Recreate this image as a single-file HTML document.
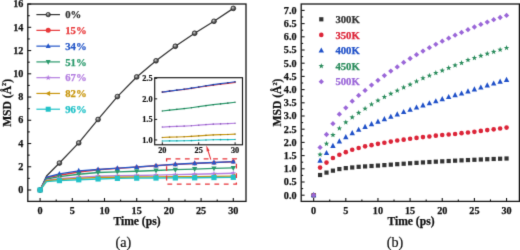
<!DOCTYPE html><html><head><meta charset="utf-8"><style>html,body{margin:0;padding:0;background:#fff;}svg{display:block;}</style></head><body><svg width="520" height="250" viewBox="0 0 520 250">
<defs><radialGradient id="sph" cx="0.4" cy="0.35" r="0.65"><stop offset="0" stop-color="#d8d8d8"/><stop offset="0.45" stop-color="#707070"/><stop offset="1" stop-color="#2a2a2a"/></radialGradient><clipPath id="cl"><rect x="0" y="0" width="520" height="250"/></clipPath></defs>
<style>text{font-family:'Liberation Serif','Times New Roman',serif;} .tk{font-size:10.2px;font-weight:bold;fill:#111;stroke:#111;stroke-width:0.25px;} .lab{font-size:11.6px;font-weight:bold;fill:#111;stroke:#111;stroke-width:0.25px;} .lg{font-size:10.7px;font-weight:bold;stroke-width:0.25px;} .it{font-size:8.3px;font-weight:bold;fill:#111;stroke:#111;stroke-width:0.2px;}</style>
<defs><filter id="bl" x="0" y="0" width="1" height="1" color-interpolation-filters="sRGB"><feConvolveMatrix order="3" kernelMatrix="0.01134 0.08382 0.01134 0.08382 0.61935 0.08382 0.01134 0.08382 0.01134" edgeMode="duplicate"/></filter></defs><g filter="url(#bl)">
<rect width="520" height="250" fill="#fff"/>
<line x1="27.8" y1="190.00" x2="31.20" y2="190.00" stroke="#151515" stroke-width="1.1"/>
<text x="23.4" y="193.20" text-anchor="end" class="tk">0</text>
<line x1="27.8" y1="178.38" x2="29.80" y2="178.38" stroke="#151515" stroke-width="1.1"/>
<line x1="27.8" y1="166.76" x2="31.20" y2="166.76" stroke="#151515" stroke-width="1.1"/>
<text x="23.4" y="169.96" text-anchor="end" class="tk">2</text>
<line x1="27.8" y1="155.14" x2="29.80" y2="155.14" stroke="#151515" stroke-width="1.1"/>
<line x1="27.8" y1="143.52" x2="31.20" y2="143.52" stroke="#151515" stroke-width="1.1"/>
<text x="23.4" y="146.72" text-anchor="end" class="tk">4</text>
<line x1="27.8" y1="131.90" x2="29.80" y2="131.90" stroke="#151515" stroke-width="1.1"/>
<line x1="27.8" y1="120.28" x2="31.20" y2="120.28" stroke="#151515" stroke-width="1.1"/>
<text x="23.4" y="123.48" text-anchor="end" class="tk">6</text>
<line x1="27.8" y1="108.66" x2="29.80" y2="108.66" stroke="#151515" stroke-width="1.1"/>
<line x1="27.8" y1="97.04" x2="31.20" y2="97.04" stroke="#151515" stroke-width="1.1"/>
<text x="23.4" y="100.24" text-anchor="end" class="tk">8</text>
<line x1="27.8" y1="85.42" x2="29.80" y2="85.42" stroke="#151515" stroke-width="1.1"/>
<line x1="27.8" y1="73.80" x2="31.20" y2="73.80" stroke="#151515" stroke-width="1.1"/>
<text x="23.4" y="77.00" text-anchor="end" class="tk">10</text>
<line x1="27.8" y1="62.18" x2="29.80" y2="62.18" stroke="#151515" stroke-width="1.1"/>
<line x1="27.8" y1="50.56" x2="31.20" y2="50.56" stroke="#151515" stroke-width="1.1"/>
<text x="23.4" y="53.76" text-anchor="end" class="tk">12</text>
<line x1="27.8" y1="38.94" x2="29.80" y2="38.94" stroke="#151515" stroke-width="1.1"/>
<line x1="27.8" y1="27.32" x2="31.20" y2="27.32" stroke="#151515" stroke-width="1.1"/>
<text x="23.4" y="30.52" text-anchor="end" class="tk">14</text>
<line x1="27.8" y1="15.70" x2="29.80" y2="15.70" stroke="#151515" stroke-width="1.1"/>
<line x1="27.8" y1="4.08" x2="31.20" y2="4.08" stroke="#151515" stroke-width="1.1"/>
<text x="23.4" y="7.28" text-anchor="end" class="tk">16</text>
<line x1="40.10" y1="201.4" x2="40.10" y2="198.00" stroke="#151515" stroke-width="1.1"/>
<text x="40.10" y="214.2" text-anchor="middle" class="tk">0</text>
<line x1="56.20" y1="201.4" x2="56.20" y2="199.40" stroke="#151515" stroke-width="1.1"/>
<line x1="72.30" y1="201.4" x2="72.30" y2="198.00" stroke="#151515" stroke-width="1.1"/>
<text x="72.30" y="214.2" text-anchor="middle" class="tk">5</text>
<line x1="88.40" y1="201.4" x2="88.40" y2="199.40" stroke="#151515" stroke-width="1.1"/>
<line x1="104.50" y1="201.4" x2="104.50" y2="198.00" stroke="#151515" stroke-width="1.1"/>
<text x="104.50" y="214.2" text-anchor="middle" class="tk">10</text>
<line x1="120.60" y1="201.4" x2="120.60" y2="199.40" stroke="#151515" stroke-width="1.1"/>
<line x1="136.70" y1="201.4" x2="136.70" y2="198.00" stroke="#151515" stroke-width="1.1"/>
<text x="136.70" y="214.2" text-anchor="middle" class="tk">15</text>
<line x1="152.80" y1="201.4" x2="152.80" y2="199.40" stroke="#151515" stroke-width="1.1"/>
<line x1="168.90" y1="201.4" x2="168.90" y2="198.00" stroke="#151515" stroke-width="1.1"/>
<text x="168.90" y="214.2" text-anchor="middle" class="tk">20</text>
<line x1="185.00" y1="201.4" x2="185.00" y2="199.40" stroke="#151515" stroke-width="1.1"/>
<line x1="201.10" y1="201.4" x2="201.10" y2="198.00" stroke="#151515" stroke-width="1.1"/>
<text x="201.10" y="214.2" text-anchor="middle" class="tk">25</text>
<line x1="217.20" y1="201.4" x2="217.20" y2="199.40" stroke="#151515" stroke-width="1.1"/>
<line x1="233.30" y1="201.4" x2="233.30" y2="198.00" stroke="#151515" stroke-width="1.1"/>
<text x="233.30" y="214.2" text-anchor="middle" class="tk">30</text>
<polyline points="40.10,190.00 46.54,176.06 59.42,163.04 78.74,142.94 98.06,119.47 117.38,96.58 136.70,76.94 156.02,60.79 175.34,46.26 194.66,33.25 213.98,21.28 233.30,8.38" fill="none" stroke="#333333" stroke-width="1.25" stroke-linejoin="round"/>
<polyline points="40.10,190.00 46.54,177.80 59.42,175.24 78.74,171.99 98.06,169.78 117.38,168.39 136.70,167.17 156.02,165.77 175.34,164.38 194.66,163.45 213.98,162.63 233.30,161.82" fill="none" stroke="#e8383a" stroke-width="1.4" stroke-linejoin="round"/>
<polyline points="40.10,190.00 46.54,177.22 59.42,173.85 78.74,170.83 98.06,169.43 117.38,168.15 136.70,166.99 156.02,165.60 175.34,164.20 194.66,163.27 213.98,162.46 233.30,161.65" fill="none" stroke="#2456c8" stroke-width="1.4" stroke-linejoin="round"/>
<polyline points="40.10,190.00 46.54,178.96 59.42,176.64 78.74,174.31 98.06,172.57 117.38,171.87 136.70,171.18 156.02,170.48 175.34,169.66 194.66,169.08 213.98,168.39 233.30,167.92" fill="none" stroke="#2a9a6c" stroke-width="1.4" stroke-linejoin="round"/>
<polyline points="40.10,190.00 46.54,180.12 59.42,178.61 78.74,177.22 98.06,176.29 117.38,175.82 136.70,175.47 156.02,175.13 175.34,174.66 194.66,174.20 213.98,173.73 233.30,173.27" fill="none" stroke="#b47ee0" stroke-width="1.4" stroke-linejoin="round"/>
<polyline points="40.10,190.00 46.54,180.70 59.42,179.54 78.74,178.38 98.06,177.57 117.38,177.22 136.70,176.99 156.02,176.87 175.34,176.75 194.66,176.64 213.98,176.40 233.30,176.17" fill="none" stroke="#c8960e" stroke-width="1.4" stroke-linejoin="round"/>
<polyline points="40.10,190.00 46.54,181.63 59.42,180.59 78.74,179.77 98.06,178.96 117.38,178.38 136.70,178.15 156.02,178.03 175.34,177.92 194.66,177.80 213.98,177.57 233.30,177.33" fill="none" stroke="#22c2c8" stroke-width="1.4" stroke-linejoin="round"/>
<circle cx="40.10" cy="190.00" r="2.40" fill="url(#sph)" stroke="#222" stroke-width="0.7"/>
<circle cx="59.42" cy="163.04" r="2.40" fill="url(#sph)" stroke="#222" stroke-width="0.7"/>
<circle cx="78.74" cy="142.94" r="2.40" fill="url(#sph)" stroke="#222" stroke-width="0.7"/>
<circle cx="98.06" cy="119.47" r="2.40" fill="url(#sph)" stroke="#222" stroke-width="0.7"/>
<circle cx="117.38" cy="96.58" r="2.40" fill="url(#sph)" stroke="#222" stroke-width="0.7"/>
<circle cx="136.70" cy="76.94" r="2.40" fill="url(#sph)" stroke="#222" stroke-width="0.7"/>
<circle cx="156.02" cy="60.79" r="2.40" fill="url(#sph)" stroke="#222" stroke-width="0.7"/>
<circle cx="175.34" cy="46.26" r="2.40" fill="url(#sph)" stroke="#222" stroke-width="0.7"/>
<circle cx="194.66" cy="33.25" r="2.40" fill="url(#sph)" stroke="#222" stroke-width="0.7"/>
<circle cx="213.98" cy="21.28" r="2.40" fill="url(#sph)" stroke="#222" stroke-width="0.7"/>
<circle cx="233.30" cy="8.38" r="2.40" fill="url(#sph)" stroke="#222" stroke-width="0.7"/>
<circle cx="40.10" cy="190.00" r="2.00" fill="#e8383a"/>
<circle cx="59.42" cy="175.24" r="2.00" fill="#e8383a"/>
<circle cx="78.74" cy="171.99" r="2.00" fill="#e8383a"/>
<circle cx="98.06" cy="169.78" r="2.00" fill="#e8383a"/>
<circle cx="117.38" cy="168.39" r="2.00" fill="#e8383a"/>
<circle cx="136.70" cy="167.17" r="2.00" fill="#e8383a"/>
<circle cx="156.02" cy="165.77" r="2.00" fill="#e8383a"/>
<circle cx="175.34" cy="164.38" r="2.00" fill="#e8383a"/>
<circle cx="194.66" cy="163.45" r="2.00" fill="#e8383a"/>
<circle cx="213.98" cy="162.63" r="2.00" fill="#e8383a"/>
<circle cx="233.30" cy="161.82" r="2.00" fill="#e8383a"/>
<polygon points="40.10,187.04 42.70,191.98 37.50,191.98" fill="#2456c8"/>
<polygon points="59.42,170.88 62.02,175.82 56.82,175.82" fill="#2456c8"/>
<polygon points="78.74,167.86 81.34,172.80 76.14,172.80" fill="#2456c8"/>
<polygon points="98.06,166.47 100.66,171.41 95.46,171.41" fill="#2456c8"/>
<polygon points="117.38,165.19 119.98,170.13 114.78,170.13" fill="#2456c8"/>
<polygon points="136.70,164.03 139.30,168.97 134.10,168.97" fill="#2456c8"/>
<polygon points="156.02,162.63 158.62,167.57 153.42,167.57" fill="#2456c8"/>
<polygon points="175.34,161.24 177.94,166.18 172.74,166.18" fill="#2456c8"/>
<polygon points="194.66,160.31 197.26,165.25 192.06,165.25" fill="#2456c8"/>
<polygon points="213.98,159.50 216.58,164.44 211.38,164.44" fill="#2456c8"/>
<polygon points="233.30,158.68 235.90,163.62 230.70,163.62" fill="#2456c8"/>
<polygon points="40.10,192.96 42.70,188.02 37.50,188.02" fill="#2a9a6c"/>
<polygon points="59.42,179.60 62.02,174.66 56.82,174.66" fill="#2a9a6c"/>
<polygon points="78.74,177.28 81.34,172.34 76.14,172.34" fill="#2a9a6c"/>
<polygon points="98.06,175.53 100.66,170.59 95.46,170.59" fill="#2a9a6c"/>
<polygon points="117.38,174.84 119.98,169.90 114.78,169.90" fill="#2a9a6c"/>
<polygon points="136.70,174.14 139.30,169.20 134.10,169.20" fill="#2a9a6c"/>
<polygon points="156.02,173.44 158.62,168.50 153.42,168.50" fill="#2a9a6c"/>
<polygon points="175.34,172.63 177.94,167.69 172.74,167.69" fill="#2a9a6c"/>
<polygon points="194.66,172.05 197.26,167.11 192.06,167.11" fill="#2a9a6c"/>
<polygon points="213.98,171.35 216.58,166.41 211.38,166.41" fill="#2a9a6c"/>
<polygon points="233.30,170.89 235.90,165.95 230.70,165.95" fill="#2a9a6c"/>
<polygon points="40.10,187.01 40.84,188.98 42.94,189.08 41.29,190.39 41.86,192.42 40.10,191.26 38.34,192.42 38.91,190.39 37.26,189.08 39.36,188.98" fill="#b47ee0"/>
<polygon points="59.42,175.62 60.16,177.60 62.26,177.69 60.61,179.00 61.18,181.03 59.42,179.87 57.66,181.03 58.23,179.00 56.58,177.69 58.68,177.60" fill="#b47ee0"/>
<polygon points="78.74,174.23 79.48,176.20 81.58,176.29 79.93,177.61 80.50,179.64 78.74,178.47 76.98,179.64 77.55,177.61 75.90,176.29 78.00,176.20" fill="#b47ee0"/>
<polygon points="98.06,173.30 98.80,175.27 100.90,175.36 99.25,176.68 99.82,178.71 98.06,177.54 96.30,178.71 96.87,176.68 95.22,175.36 97.32,175.27" fill="#b47ee0"/>
<polygon points="117.38,172.83 118.12,174.81 120.22,174.90 118.57,176.21 119.14,178.24 117.38,177.08 115.62,178.24 116.19,176.21 114.54,174.90 116.64,174.81" fill="#b47ee0"/>
<polygon points="136.70,172.48 137.44,174.46 139.54,174.55 137.89,175.86 138.46,177.89 136.70,176.73 134.94,177.89 135.51,175.86 133.86,174.55 135.96,174.46" fill="#b47ee0"/>
<polygon points="156.02,172.14 156.76,174.11 158.86,174.20 157.21,175.51 157.78,177.55 156.02,176.38 154.26,177.55 154.83,175.51 153.18,174.20 155.28,174.11" fill="#b47ee0"/>
<polygon points="175.34,171.67 176.08,173.65 178.18,173.74 176.53,175.05 177.10,177.08 175.34,175.92 173.58,177.08 174.15,175.05 172.50,173.74 174.60,173.65" fill="#b47ee0"/>
<polygon points="194.66,171.21 195.40,173.18 197.50,173.27 195.85,174.58 196.42,176.62 194.66,175.45 192.90,176.62 193.47,174.58 191.82,173.27 193.92,173.18" fill="#b47ee0"/>
<polygon points="213.98,170.74 214.72,172.72 216.82,172.81 215.17,174.12 215.74,176.15 213.98,174.99 212.22,176.15 212.79,174.12 211.14,172.81 213.24,172.72" fill="#b47ee0"/>
<polygon points="233.30,170.28 234.04,172.25 236.14,172.34 234.49,173.66 235.06,175.69 233.30,174.52 231.54,175.69 232.11,173.66 230.46,172.34 232.56,172.25" fill="#b47ee0"/>
<polygon points="37.14,190.00 42.08,187.40 42.08,192.60" fill="#c8960e"/>
<polygon points="56.46,179.54 61.40,176.94 61.40,182.14" fill="#c8960e"/>
<polygon points="75.78,178.38 80.72,175.78 80.72,180.98" fill="#c8960e"/>
<polygon points="95.10,177.57 100.04,174.97 100.04,180.17" fill="#c8960e"/>
<polygon points="114.42,177.22 119.36,174.62 119.36,179.82" fill="#c8960e"/>
<polygon points="133.74,176.99 138.68,174.39 138.68,179.59" fill="#c8960e"/>
<polygon points="153.06,176.87 158.00,174.27 158.00,179.47" fill="#c8960e"/>
<polygon points="172.38,176.75 177.32,174.15 177.32,179.35" fill="#c8960e"/>
<polygon points="191.70,176.64 196.64,174.04 196.64,179.24" fill="#c8960e"/>
<polygon points="211.02,176.40 215.96,173.80 215.96,179.00" fill="#c8960e"/>
<polygon points="230.34,176.17 235.28,173.57 235.28,178.77" fill="#c8960e"/>
<rect x="37.50" y="187.40" width="5.20" height="5.20" fill="#22c2c8"/>
<rect x="56.82" y="177.99" width="5.20" height="5.20" fill="#22c2c8"/>
<rect x="76.14" y="177.17" width="5.20" height="5.20" fill="#22c2c8"/>
<rect x="95.46" y="176.36" width="5.20" height="5.20" fill="#22c2c8"/>
<rect x="114.78" y="175.78" width="5.20" height="5.20" fill="#22c2c8"/>
<rect x="134.10" y="175.55" width="5.20" height="5.20" fill="#22c2c8"/>
<rect x="153.42" y="175.43" width="5.20" height="5.20" fill="#22c2c8"/>
<rect x="172.74" y="175.32" width="5.20" height="5.20" fill="#22c2c8"/>
<rect x="192.06" y="175.20" width="5.20" height="5.20" fill="#22c2c8"/>
<rect x="211.38" y="174.97" width="5.20" height="5.20" fill="#22c2c8"/>
<rect x="230.70" y="174.73" width="5.20" height="5.20" fill="#22c2c8"/>
<line x1="36.4" y1="14.60" x2="60" y2="14.60" stroke="#333333" stroke-width="1.2"/>
<circle cx="48.20" cy="14.60" r="2.20" fill="url(#sph)" stroke="#222" stroke-width="0.7"/>
<text x="65.2" y="18.20" class="lg" fill="#333333" stroke="#333333">0%</text>
<line x1="36.4" y1="30.37" x2="60" y2="30.37" stroke="#e8383a" stroke-width="1.2"/>
<circle cx="48.20" cy="30.37" r="2.50" fill="#e8383a"/>
<text x="65.2" y="33.97" class="lg" fill="#e8383a" stroke="#e8383a">15%</text>
<line x1="36.4" y1="46.14" x2="60" y2="46.14" stroke="#2456c8" stroke-width="1.2"/>
<polygon points="48.20,43.29 50.70,48.04 45.70,48.04" fill="#2456c8"/>
<text x="65.2" y="49.74" class="lg" fill="#2456c8" stroke="#2456c8">34%</text>
<line x1="36.4" y1="61.91" x2="60" y2="61.91" stroke="#2a9a6c" stroke-width="1.2"/>
<polygon points="48.20,64.76 50.70,60.01 45.70,60.01" fill="#2a9a6c"/>
<text x="65.2" y="65.51" class="lg" fill="#2a9a6c" stroke="#2a9a6c">51%</text>
<line x1="36.4" y1="77.68" x2="60" y2="77.68" stroke="#b47ee0" stroke-width="1.2"/>
<polygon points="48.20,74.80 48.91,76.70 50.93,76.79 49.35,78.05 49.89,80.01 48.20,78.89 46.51,80.01 47.05,78.05 45.47,76.79 47.49,76.70" fill="#b47ee0"/>
<text x="65.2" y="81.28" class="lg" fill="#b47ee0" stroke="#b47ee0">67%</text>
<line x1="36.4" y1="93.45" x2="60" y2="93.45" stroke="#c8960e" stroke-width="1.2"/>
<polygon points="45.35,93.45 50.10,90.95 50.10,95.95" fill="#c8960e"/>
<text x="65.2" y="97.05" class="lg" fill="#c8960e" stroke="#c8960e">82%</text>
<line x1="36.4" y1="109.22" x2="60" y2="109.22" stroke="#22c2c8" stroke-width="1.2"/>
<rect x="45.70" y="106.72" width="5.00" height="5.00" fill="#22c2c8"/>
<text x="65.2" y="112.82" class="lg" fill="#22c2c8" stroke="#22c2c8">96%</text>
<rect x="166.6" y="158.9" width="69.8" height="25.3" fill="none" stroke="#e8343a" stroke-width="1.3" stroke-dasharray="4.8,4.6" stroke-dashoffset="0.5"/>
<line x1="210.80" y1="159.60" x2="208.15" y2="151.12" stroke="#e8343a" stroke-width="1.1"/>
<polygon points="206.30,145.20 209.58,150.67 206.72,151.57" fill="#e8343a"/>
<rect x="154.7" y="77.7" width="87.80" height="67.10" fill="#fff" stroke="#151515" stroke-width="1.15"/>
<line x1="154.7" y1="139.95" x2="157.20" y2="139.95" stroke="#151515" stroke-width="1"/>
<text x="152.6" y="142.85" text-anchor="end" class="it">1.0</text>
<line x1="154.7" y1="119.40" x2="157.20" y2="119.40" stroke="#151515" stroke-width="1"/>
<text x="152.6" y="122.30" text-anchor="end" class="it">1.5</text>
<line x1="154.7" y1="98.85" x2="157.20" y2="98.85" stroke="#151515" stroke-width="1"/>
<text x="152.6" y="101.75" text-anchor="end" class="it">2.0</text>
<line x1="154.7" y1="78.30" x2="157.20" y2="78.30" stroke="#151515" stroke-width="1"/>
<text x="152.6" y="81.20" text-anchor="end" class="it">2.5</text>
<line x1="162.30" y1="144.8" x2="162.30" y2="142.30" stroke="#151515" stroke-width="1"/>
<text x="162.30" y="153.2" text-anchor="middle" class="it">20</text>
<line x1="198.70" y1="144.8" x2="198.70" y2="142.30" stroke="#151515" stroke-width="1"/>
<text x="198.70" y="153.2" text-anchor="middle" class="it">25</text>
<line x1="235.10" y1="144.8" x2="235.10" y2="142.30" stroke="#151515" stroke-width="1"/>
<text x="235.10" y="153.2" text-anchor="middle" class="it">30</text>
<polyline points="162.30,92.12 169.58,91.13 176.86,90.26 184.14,89.39 191.42,88.40 198.70,87.26 205.98,86.11 213.26,85.07 220.54,84.17 227.82,83.32 235.10,82.37" fill="none" stroke="#e8383a" stroke-width="1.15"/>
<circle cx="162.30" cy="92.12" r="0.8" fill="#902030" fill-opacity="0.8"/>
<circle cx="169.58" cy="91.13" r="0.8" fill="#902030" fill-opacity="0.8"/>
<circle cx="176.86" cy="90.26" r="0.8" fill="#902030" fill-opacity="0.8"/>
<circle cx="184.14" cy="89.39" r="0.8" fill="#902030" fill-opacity="0.8"/>
<circle cx="191.42" cy="88.40" r="0.8" fill="#902030" fill-opacity="0.8"/>
<circle cx="198.70" cy="87.26" r="0.8" fill="#902030" fill-opacity="0.8"/>
<circle cx="205.98" cy="86.11" r="0.8" fill="#902030" fill-opacity="0.8"/>
<circle cx="213.26" cy="85.07" r="0.8" fill="#902030" fill-opacity="0.8"/>
<circle cx="220.54" cy="84.17" r="0.8" fill="#902030" fill-opacity="0.8"/>
<circle cx="227.82" cy="83.32" r="0.8" fill="#902030" fill-opacity="0.8"/>
<circle cx="235.10" cy="82.37" r="0.8" fill="#902030" fill-opacity="0.8"/>
<polyline points="162.30,92.12 169.58,91.07 176.86,90.14 184.14,89.21 191.42,88.15 198.70,86.95 205.98,85.74 213.26,84.64 220.54,83.68 227.82,82.77 235.10,81.75" fill="none" stroke="#2456c8" stroke-width="1.15"/>
<circle cx="162.30" cy="92.12" r="0.8" fill="#1a2f80" fill-opacity="0.8"/>
<circle cx="169.58" cy="91.07" r="0.8" fill="#1a2f80" fill-opacity="0.8"/>
<circle cx="176.86" cy="90.14" r="0.8" fill="#1a2f80" fill-opacity="0.8"/>
<circle cx="184.14" cy="89.21" r="0.8" fill="#1a2f80" fill-opacity="0.8"/>
<circle cx="191.42" cy="88.15" r="0.8" fill="#1a2f80" fill-opacity="0.8"/>
<circle cx="198.70" cy="86.95" r="0.8" fill="#1a2f80" fill-opacity="0.8"/>
<circle cx="205.98" cy="85.74" r="0.8" fill="#1a2f80" fill-opacity="0.8"/>
<circle cx="213.26" cy="84.64" r="0.8" fill="#1a2f80" fill-opacity="0.8"/>
<circle cx="220.54" cy="83.68" r="0.8" fill="#1a2f80" fill-opacity="0.8"/>
<circle cx="227.82" cy="82.77" r="0.8" fill="#1a2f80" fill-opacity="0.8"/>
<circle cx="235.10" cy="81.75" r="0.8" fill="#1a2f80" fill-opacity="0.8"/>
<polyline points="162.30,111.03 169.58,110.14 176.86,109.37 184.14,108.61 191.42,107.71 198.70,106.68 205.98,105.63 213.26,104.69 220.54,103.90 227.82,103.15 235.10,102.30" fill="none" stroke="#2a9a6c" stroke-width="1.15"/>
<circle cx="162.30" cy="111.03" r="0.8" fill="#1a6a48" fill-opacity="0.8"/>
<circle cx="169.58" cy="110.14" r="0.8" fill="#1a6a48" fill-opacity="0.8"/>
<circle cx="176.86" cy="109.37" r="0.8" fill="#1a6a48" fill-opacity="0.8"/>
<circle cx="184.14" cy="108.61" r="0.8" fill="#1a6a48" fill-opacity="0.8"/>
<circle cx="191.42" cy="107.71" r="0.8" fill="#1a6a48" fill-opacity="0.8"/>
<circle cx="198.70" cy="106.68" r="0.8" fill="#1a6a48" fill-opacity="0.8"/>
<circle cx="205.98" cy="105.63" r="0.8" fill="#1a6a48" fill-opacity="0.8"/>
<circle cx="213.26" cy="104.69" r="0.8" fill="#1a6a48" fill-opacity="0.8"/>
<circle cx="220.54" cy="103.90" r="0.8" fill="#1a6a48" fill-opacity="0.8"/>
<circle cx="227.82" cy="103.15" r="0.8" fill="#1a6a48" fill-opacity="0.8"/>
<circle cx="235.10" cy="102.30" r="0.8" fill="#1a6a48" fill-opacity="0.8"/>
<polyline points="162.30,127.06 169.58,126.66 176.86,126.39 184.14,126.12 191.42,125.71 198.70,125.18 205.98,124.62 213.26,124.17 220.54,123.88 227.82,123.62 235.10,123.26" fill="none" stroke="#b47ee0" stroke-width="1.15"/>
<circle cx="162.30" cy="127.06" r="0.8" fill="#8050b0" fill-opacity="0.8"/>
<circle cx="169.58" cy="126.66" r="0.8" fill="#8050b0" fill-opacity="0.8"/>
<circle cx="176.86" cy="126.39" r="0.8" fill="#8050b0" fill-opacity="0.8"/>
<circle cx="184.14" cy="126.12" r="0.8" fill="#8050b0" fill-opacity="0.8"/>
<circle cx="191.42" cy="125.71" r="0.8" fill="#8050b0" fill-opacity="0.8"/>
<circle cx="198.70" cy="125.18" r="0.8" fill="#8050b0" fill-opacity="0.8"/>
<circle cx="205.98" cy="124.62" r="0.8" fill="#8050b0" fill-opacity="0.8"/>
<circle cx="213.26" cy="124.17" r="0.8" fill="#8050b0" fill-opacity="0.8"/>
<circle cx="220.54" cy="123.88" r="0.8" fill="#8050b0" fill-opacity="0.8"/>
<circle cx="227.82" cy="123.62" r="0.8" fill="#8050b0" fill-opacity="0.8"/>
<circle cx="235.10" cy="123.26" r="0.8" fill="#8050b0" fill-opacity="0.8"/>
<polyline points="162.30,137.54 169.58,137.18 176.86,136.95 184.14,136.72 191.42,136.36 198.70,135.86 205.98,135.34 213.26,134.94 220.54,134.69 227.82,134.47 235.10,134.15" fill="none" stroke="#c8960e" stroke-width="1.15"/>
<circle cx="162.30" cy="137.54" r="0.8" fill="#8a6a10" fill-opacity="0.8"/>
<circle cx="169.58" cy="137.18" r="0.8" fill="#8a6a10" fill-opacity="0.8"/>
<circle cx="176.86" cy="136.95" r="0.8" fill="#8a6a10" fill-opacity="0.8"/>
<circle cx="184.14" cy="136.72" r="0.8" fill="#8a6a10" fill-opacity="0.8"/>
<circle cx="191.42" cy="136.36" r="0.8" fill="#8a6a10" fill-opacity="0.8"/>
<circle cx="198.70" cy="135.86" r="0.8" fill="#8a6a10" fill-opacity="0.8"/>
<circle cx="205.98" cy="135.34" r="0.8" fill="#8a6a10" fill-opacity="0.8"/>
<circle cx="213.26" cy="134.94" r="0.8" fill="#8a6a10" fill-opacity="0.8"/>
<circle cx="220.54" cy="134.69" r="0.8" fill="#8a6a10" fill-opacity="0.8"/>
<circle cx="227.82" cy="134.47" r="0.8" fill="#8a6a10" fill-opacity="0.8"/>
<circle cx="235.10" cy="134.15" r="0.8" fill="#8a6a10" fill-opacity="0.8"/>
<polyline points="162.30,141.03 169.58,140.86 176.86,140.81 184.14,140.77 191.42,140.59 198.70,140.28 205.98,139.95 213.26,139.73 220.54,139.66 227.82,139.63 235.10,139.50" fill="none" stroke="#22c2c8" stroke-width="1.15"/>
<circle cx="162.30" cy="141.03" r="0.8" fill="#148a8a" fill-opacity="0.8"/>
<circle cx="169.58" cy="140.86" r="0.8" fill="#148a8a" fill-opacity="0.8"/>
<circle cx="176.86" cy="140.81" r="0.8" fill="#148a8a" fill-opacity="0.8"/>
<circle cx="184.14" cy="140.77" r="0.8" fill="#148a8a" fill-opacity="0.8"/>
<circle cx="191.42" cy="140.59" r="0.8" fill="#148a8a" fill-opacity="0.8"/>
<circle cx="198.70" cy="140.28" r="0.8" fill="#148a8a" fill-opacity="0.8"/>
<circle cx="205.98" cy="139.95" r="0.8" fill="#148a8a" fill-opacity="0.8"/>
<circle cx="213.26" cy="139.73" r="0.8" fill="#148a8a" fill-opacity="0.8"/>
<circle cx="220.54" cy="139.66" r="0.8" fill="#148a8a" fill-opacity="0.8"/>
<circle cx="227.82" cy="139.63" r="0.8" fill="#148a8a" fill-opacity="0.8"/>
<circle cx="235.10" cy="139.50" r="0.8" fill="#148a8a" fill-opacity="0.8"/>
<rect x="27.8" y="4.0" width="218.20" height="197.40" fill="none" stroke="#151515" stroke-width="1.3"/>
<text x="137" y="225.2" text-anchor="middle" class="lab">Time (ps)</text>
<text transform="translate(10.5,102.9) rotate(-90)" text-anchor="middle" class="lab">MSD (Å<tspan dy="-4.4" font-size="6.2">2</tspan><tspan dy="4.4">)</tspan></text>
<text x="123.4" y="246.6" text-anchor="middle" style="font-size:14.2px;fill:#111;stroke:#111;stroke-width:0.2px">(a)</text>
<line x1="301.2" y1="195.20" x2="304.60" y2="195.20" stroke="#151515" stroke-width="1.1"/>
<text x="296.6" y="198.50" text-anchor="end" class="tk">0.0</text>
<line x1="301.2" y1="188.60" x2="303.20" y2="188.60" stroke="#151515" stroke-width="1.1"/>
<line x1="301.2" y1="182.00" x2="304.60" y2="182.00" stroke="#151515" stroke-width="1.1"/>
<text x="296.6" y="185.30" text-anchor="end" class="tk">0.5</text>
<line x1="301.2" y1="175.40" x2="303.20" y2="175.40" stroke="#151515" stroke-width="1.1"/>
<line x1="301.2" y1="168.80" x2="304.60" y2="168.80" stroke="#151515" stroke-width="1.1"/>
<text x="296.6" y="172.10" text-anchor="end" class="tk">1.0</text>
<line x1="301.2" y1="162.20" x2="303.20" y2="162.20" stroke="#151515" stroke-width="1.1"/>
<line x1="301.2" y1="155.60" x2="304.60" y2="155.60" stroke="#151515" stroke-width="1.1"/>
<text x="296.6" y="158.90" text-anchor="end" class="tk">1.5</text>
<line x1="301.2" y1="149.00" x2="303.20" y2="149.00" stroke="#151515" stroke-width="1.1"/>
<line x1="301.2" y1="142.40" x2="304.60" y2="142.40" stroke="#151515" stroke-width="1.1"/>
<text x="296.6" y="145.70" text-anchor="end" class="tk">2.0</text>
<line x1="301.2" y1="135.80" x2="303.20" y2="135.80" stroke="#151515" stroke-width="1.1"/>
<line x1="301.2" y1="129.20" x2="304.60" y2="129.20" stroke="#151515" stroke-width="1.1"/>
<text x="296.6" y="132.50" text-anchor="end" class="tk">2.5</text>
<line x1="301.2" y1="122.60" x2="303.20" y2="122.60" stroke="#151515" stroke-width="1.1"/>
<line x1="301.2" y1="116.00" x2="304.60" y2="116.00" stroke="#151515" stroke-width="1.1"/>
<text x="296.6" y="119.30" text-anchor="end" class="tk">3.0</text>
<line x1="301.2" y1="109.40" x2="303.20" y2="109.40" stroke="#151515" stroke-width="1.1"/>
<line x1="301.2" y1="102.80" x2="304.60" y2="102.80" stroke="#151515" stroke-width="1.1"/>
<text x="296.6" y="106.10" text-anchor="end" class="tk">3.5</text>
<line x1="301.2" y1="96.20" x2="303.20" y2="96.20" stroke="#151515" stroke-width="1.1"/>
<line x1="301.2" y1="89.60" x2="304.60" y2="89.60" stroke="#151515" stroke-width="1.1"/>
<text x="296.6" y="92.90" text-anchor="end" class="tk">4.0</text>
<line x1="301.2" y1="83.00" x2="303.20" y2="83.00" stroke="#151515" stroke-width="1.1"/>
<line x1="301.2" y1="76.40" x2="304.60" y2="76.40" stroke="#151515" stroke-width="1.1"/>
<text x="296.6" y="79.70" text-anchor="end" class="tk">4.5</text>
<line x1="301.2" y1="69.80" x2="303.20" y2="69.80" stroke="#151515" stroke-width="1.1"/>
<line x1="301.2" y1="63.20" x2="304.60" y2="63.20" stroke="#151515" stroke-width="1.1"/>
<text x="296.6" y="66.50" text-anchor="end" class="tk">5.0</text>
<line x1="301.2" y1="56.60" x2="303.20" y2="56.60" stroke="#151515" stroke-width="1.1"/>
<line x1="301.2" y1="50.00" x2="304.60" y2="50.00" stroke="#151515" stroke-width="1.1"/>
<text x="296.6" y="53.30" text-anchor="end" class="tk">5.5</text>
<line x1="301.2" y1="43.40" x2="303.20" y2="43.40" stroke="#151515" stroke-width="1.1"/>
<line x1="301.2" y1="36.80" x2="304.60" y2="36.80" stroke="#151515" stroke-width="1.1"/>
<text x="296.6" y="40.10" text-anchor="end" class="tk">6.0</text>
<line x1="301.2" y1="30.20" x2="303.20" y2="30.20" stroke="#151515" stroke-width="1.1"/>
<line x1="301.2" y1="23.60" x2="304.60" y2="23.60" stroke="#151515" stroke-width="1.1"/>
<text x="296.6" y="26.90" text-anchor="end" class="tk">6.5</text>
<line x1="301.2" y1="17.00" x2="303.20" y2="17.00" stroke="#151515" stroke-width="1.1"/>
<line x1="301.2" y1="10.40" x2="304.60" y2="10.40" stroke="#151515" stroke-width="1.1"/>
<text x="296.6" y="13.70" text-anchor="end" class="tk">7.0</text>
<line x1="313.65" y1="201.4" x2="313.65" y2="198.00" stroke="#151515" stroke-width="1.1"/>
<text x="313.65" y="214.2" text-anchor="middle" class="tk">0</text>
<line x1="329.72" y1="201.4" x2="329.72" y2="199.40" stroke="#151515" stroke-width="1.1"/>
<line x1="345.80" y1="201.4" x2="345.80" y2="198.00" stroke="#151515" stroke-width="1.1"/>
<text x="345.80" y="214.2" text-anchor="middle" class="tk">5</text>
<line x1="361.88" y1="201.4" x2="361.88" y2="199.40" stroke="#151515" stroke-width="1.1"/>
<line x1="377.95" y1="201.4" x2="377.95" y2="198.00" stroke="#151515" stroke-width="1.1"/>
<text x="377.95" y="214.2" text-anchor="middle" class="tk">10</text>
<line x1="394.02" y1="201.4" x2="394.02" y2="199.40" stroke="#151515" stroke-width="1.1"/>
<line x1="410.10" y1="201.4" x2="410.10" y2="198.00" stroke="#151515" stroke-width="1.1"/>
<text x="410.10" y="214.2" text-anchor="middle" class="tk">15</text>
<line x1="426.17" y1="201.4" x2="426.17" y2="199.40" stroke="#151515" stroke-width="1.1"/>
<line x1="442.25" y1="201.4" x2="442.25" y2="198.00" stroke="#151515" stroke-width="1.1"/>
<text x="442.25" y="214.2" text-anchor="middle" class="tk">20</text>
<line x1="458.32" y1="201.4" x2="458.32" y2="199.40" stroke="#151515" stroke-width="1.1"/>
<line x1="474.40" y1="201.4" x2="474.40" y2="198.00" stroke="#151515" stroke-width="1.1"/>
<text x="474.40" y="214.2" text-anchor="middle" class="tk">25</text>
<line x1="490.47" y1="201.4" x2="490.47" y2="199.40" stroke="#151515" stroke-width="1.1"/>
<line x1="506.55" y1="201.4" x2="506.55" y2="198.00" stroke="#151515" stroke-width="1.1"/>
<text x="506.55" y="214.2" text-anchor="middle" class="tk">30</text>
<rect x="311.55" y="193.10" width="4.20" height="4.20" fill="#333333"/>
<rect x="317.98" y="172.90" width="4.20" height="4.20" fill="#333333"/>
<rect x="324.41" y="170.50" width="4.20" height="4.20" fill="#333333"/>
<rect x="330.84" y="168.55" width="4.20" height="4.20" fill="#333333"/>
<rect x="337.27" y="166.96" width="4.20" height="4.20" fill="#333333"/>
<rect x="343.70" y="166.04" width="4.20" height="4.20" fill="#333333"/>
<rect x="350.13" y="165.38" width="4.20" height="4.20" fill="#333333"/>
<rect x="356.56" y="164.72" width="4.20" height="4.20" fill="#333333"/>
<rect x="362.99" y="164.32" width="4.20" height="4.20" fill="#333333"/>
<rect x="369.42" y="163.90" width="4.20" height="4.20" fill="#333333"/>
<rect x="375.85" y="163.47" width="4.20" height="4.20" fill="#333333"/>
<rect x="382.28" y="163.01" width="4.20" height="4.20" fill="#333333"/>
<rect x="388.71" y="162.55" width="4.20" height="4.20" fill="#333333"/>
<rect x="395.14" y="162.09" width="4.20" height="4.20" fill="#333333"/>
<rect x="401.57" y="161.63" width="4.20" height="4.20" fill="#333333"/>
<rect x="408.00" y="161.18" width="4.20" height="4.20" fill="#333333"/>
<rect x="414.43" y="160.75" width="4.20" height="4.20" fill="#333333"/>
<rect x="420.86" y="160.33" width="4.20" height="4.20" fill="#333333"/>
<rect x="427.29" y="159.93" width="4.20" height="4.20" fill="#333333"/>
<rect x="433.72" y="159.57" width="4.20" height="4.20" fill="#333333"/>
<rect x="440.15" y="159.23" width="4.20" height="4.20" fill="#333333"/>
<rect x="446.58" y="158.90" width="4.20" height="4.20" fill="#333333"/>
<rect x="453.01" y="158.57" width="4.20" height="4.20" fill="#333333"/>
<rect x="459.44" y="158.26" width="4.20" height="4.20" fill="#333333"/>
<rect x="465.87" y="157.96" width="4.20" height="4.20" fill="#333333"/>
<rect x="472.30" y="157.67" width="4.20" height="4.20" fill="#333333"/>
<rect x="478.73" y="157.39" width="4.20" height="4.20" fill="#333333"/>
<rect x="485.16" y="157.12" width="4.20" height="4.20" fill="#333333"/>
<rect x="491.59" y="156.87" width="4.20" height="4.20" fill="#333333"/>
<rect x="498.02" y="156.63" width="4.20" height="4.20" fill="#333333"/>
<rect x="504.45" y="156.40" width="4.20" height="4.20" fill="#333333"/>
<circle cx="313.65" cy="195.20" r="2.30" fill="#dc2438"/>
<circle cx="320.08" cy="167.61" r="2.30" fill="#dc2438"/>
<circle cx="326.51" cy="162.60" r="2.30" fill="#dc2438"/>
<circle cx="332.94" cy="157.98" r="2.30" fill="#dc2438"/>
<circle cx="339.37" cy="154.81" r="2.30" fill="#dc2438"/>
<circle cx="345.80" cy="152.17" r="2.30" fill="#dc2438"/>
<circle cx="352.23" cy="149.79" r="2.30" fill="#dc2438"/>
<circle cx="358.66" cy="147.94" r="2.30" fill="#dc2438"/>
<circle cx="365.09" cy="146.36" r="2.30" fill="#dc2438"/>
<circle cx="371.52" cy="145.17" r="2.30" fill="#dc2438"/>
<circle cx="377.95" cy="143.85" r="2.30" fill="#dc2438"/>
<circle cx="384.38" cy="142.80" r="2.30" fill="#dc2438"/>
<circle cx="390.81" cy="141.61" r="2.30" fill="#dc2438"/>
<circle cx="397.24" cy="140.55" r="2.30" fill="#dc2438"/>
<circle cx="403.67" cy="139.63" r="2.30" fill="#dc2438"/>
<circle cx="410.10" cy="138.70" r="2.30" fill="#dc2438"/>
<circle cx="416.53" cy="137.91" r="2.30" fill="#dc2438"/>
<circle cx="422.96" cy="137.12" r="2.30" fill="#dc2438"/>
<circle cx="429.39" cy="136.46" r="2.30" fill="#dc2438"/>
<circle cx="435.82" cy="135.67" r="2.30" fill="#dc2438"/>
<circle cx="442.25" cy="135.01" r="2.30" fill="#dc2438"/>
<circle cx="448.68" cy="134.48" r="2.30" fill="#dc2438"/>
<circle cx="455.11" cy="133.95" r="2.30" fill="#dc2438"/>
<circle cx="461.54" cy="133.16" r="2.30" fill="#dc2438"/>
<circle cx="467.97" cy="132.50" r="2.30" fill="#dc2438"/>
<circle cx="474.40" cy="131.84" r="2.30" fill="#dc2438"/>
<circle cx="480.83" cy="130.92" r="2.30" fill="#dc2438"/>
<circle cx="487.26" cy="130.12" r="2.30" fill="#dc2438"/>
<circle cx="493.69" cy="129.33" r="2.30" fill="#dc2438"/>
<circle cx="500.12" cy="128.54" r="2.30" fill="#dc2438"/>
<circle cx="506.55" cy="127.62" r="2.30" fill="#dc2438"/>
<polygon points="313.65,192.12 316.35,197.25 310.95,197.25" fill="#1f50c8"/>
<polygon points="320.08,157.54 322.78,162.67 317.38,162.67" fill="#1f50c8"/>
<polygon points="326.51,149.88 329.21,155.01 323.81,155.01" fill="#1f50c8"/>
<polygon points="332.94,142.75 335.64,147.88 330.24,147.88" fill="#1f50c8"/>
<polygon points="339.37,138.27 342.07,143.40 336.67,143.40" fill="#1f50c8"/>
<polygon points="345.80,134.04 348.50,139.17 343.10,139.17" fill="#1f50c8"/>
<polygon points="352.23,130.08 354.93,135.21 349.53,135.21" fill="#1f50c8"/>
<polygon points="358.66,126.65 361.36,131.78 355.96,131.78" fill="#1f50c8"/>
<polygon points="365.09,123.75 367.79,128.88 362.39,128.88" fill="#1f50c8"/>
<polygon points="371.52,121.10 374.22,126.23 368.82,126.23" fill="#1f50c8"/>
<polygon points="377.95,118.53 380.65,123.66 375.25,123.66" fill="#1f50c8"/>
<polygon points="384.38,116.05 387.08,121.18 381.68,121.18" fill="#1f50c8"/>
<polygon points="390.81,113.64 393.51,118.77 388.11,118.77" fill="#1f50c8"/>
<polygon points="397.24,111.29 399.94,116.42 394.54,116.42" fill="#1f50c8"/>
<polygon points="403.67,108.98 406.37,114.11 400.97,114.11" fill="#1f50c8"/>
<polygon points="410.10,106.71 412.80,111.84 407.40,111.84" fill="#1f50c8"/>
<polygon points="416.53,104.47 419.23,109.60 413.83,109.60" fill="#1f50c8"/>
<polygon points="422.96,102.30 425.66,107.43 420.26,107.43" fill="#1f50c8"/>
<polygon points="429.39,100.20 432.09,105.33 426.69,105.33" fill="#1f50c8"/>
<polygon points="435.82,98.14 438.52,103.27 433.12,103.27" fill="#1f50c8"/>
<polygon points="442.25,96.03 444.95,101.16 439.55,101.16" fill="#1f50c8"/>
<polygon points="448.68,93.95 451.38,99.08 445.98,99.08" fill="#1f50c8"/>
<polygon points="455.11,92.07 457.81,97.20 452.41,97.20" fill="#1f50c8"/>
<polygon points="461.54,90.48 464.24,95.61 458.84,95.61" fill="#1f50c8"/>
<polygon points="467.97,88.37 470.67,93.50 465.27,93.50" fill="#1f50c8"/>
<polygon points="474.40,86.26 477.10,91.39 471.70,91.39" fill="#1f50c8"/>
<polygon points="480.83,84.41 483.53,89.54 478.13,89.54" fill="#1f50c8"/>
<polygon points="487.26,82.30 489.96,87.43 484.56,87.43" fill="#1f50c8"/>
<polygon points="493.69,80.45 496.39,85.58 490.99,85.58" fill="#1f50c8"/>
<polygon points="500.12,78.60 502.82,83.73 497.42,83.73" fill="#1f50c8"/>
<polygon points="506.55,76.75 509.25,81.88 503.85,81.88" fill="#1f50c8"/>
<polygon points="313.65,192.32 314.36,194.22 316.38,194.31 314.80,195.57 315.34,197.53 313.65,196.41 311.96,197.53 312.50,195.57 310.92,194.31 312.94,194.22" fill="#2a8c5c"/>
<polygon points="320.08,151.67 320.79,153.57 322.81,153.66 321.23,154.92 321.77,156.87 320.08,155.75 318.39,156.87 318.93,154.92 317.35,153.66 319.37,153.57" fill="#2a8c5c"/>
<polygon points="326.51,140.84 327.22,142.74 329.24,142.83 327.66,144.09 328.20,146.05 326.51,144.93 324.82,146.05 325.36,144.09 323.78,142.83 325.80,142.74" fill="#2a8c5c"/>
<polygon points="332.94,132.13 333.65,134.03 335.67,134.12 334.09,135.38 334.63,137.33 332.94,136.22 331.25,137.33 331.79,135.38 330.21,134.12 332.23,134.03" fill="#2a8c5c"/>
<polygon points="339.37,125.53 340.08,127.43 342.10,127.52 340.52,128.78 341.06,130.73 339.37,129.62 337.68,130.73 338.22,128.78 336.64,127.52 338.66,127.43" fill="#2a8c5c"/>
<polygon points="345.80,119.46 346.51,121.36 348.53,121.45 346.95,122.71 347.49,124.66 345.80,123.54 344.11,124.66 344.65,122.71 343.07,121.45 345.09,121.36" fill="#2a8c5c"/>
<polygon points="352.23,114.47 352.94,116.37 354.96,116.46 353.38,117.72 353.92,119.67 352.23,118.55 350.54,119.67 351.08,117.72 349.50,116.46 351.52,116.37" fill="#2a8c5c"/>
<polygon points="358.66,109.96 359.37,111.86 361.39,111.94 359.81,113.21 360.35,115.16 358.66,114.04 356.97,115.16 357.51,113.21 355.93,111.94 357.95,111.86" fill="#2a8c5c"/>
<polygon points="365.09,105.73 365.80,107.63 367.82,107.72 366.24,108.98 366.78,110.93 365.09,109.82 363.40,110.93 363.94,108.98 362.36,107.72 364.38,107.63" fill="#2a8c5c"/>
<polygon points="371.52,101.51 372.23,103.41 374.25,103.50 372.67,104.76 373.21,106.71 371.52,105.59 369.83,106.71 370.37,104.76 368.79,103.50 370.81,103.41" fill="#2a8c5c"/>
<polygon points="377.95,97.67 378.66,99.57 380.68,99.66 379.10,100.92 379.64,102.87 377.95,101.76 376.26,102.87 376.80,100.92 375.22,99.66 377.24,99.57" fill="#2a8c5c"/>
<polygon points="384.38,94.12 385.09,96.02 387.11,96.10 385.53,97.37 386.07,99.32 384.38,98.20 382.69,99.32 383.23,97.37 381.65,96.10 383.67,96.02" fill="#2a8c5c"/>
<polygon points="390.81,90.89 391.52,92.79 393.54,92.87 391.96,94.14 392.50,96.09 390.81,94.97 389.12,96.09 389.66,94.14 388.08,92.87 390.10,92.79" fill="#2a8c5c"/>
<polygon points="397.24,87.78 397.95,89.68 399.97,89.77 398.39,91.03 398.93,92.98 397.24,91.86 395.55,92.98 396.09,91.03 394.51,89.77 396.53,89.68" fill="#2a8c5c"/>
<polygon points="403.67,84.61 404.38,86.51 406.40,86.60 404.82,87.86 405.36,89.81 403.67,88.70 401.98,89.81 402.52,87.86 400.94,86.60 402.96,86.51" fill="#2a8c5c"/>
<polygon points="410.10,81.71 410.81,83.61 412.83,83.70 411.25,84.96 411.79,86.91 410.10,85.79 408.41,86.91 408.95,84.96 407.37,83.70 409.39,83.61" fill="#2a8c5c"/>
<polygon points="416.53,78.54 417.24,80.44 419.26,80.53 417.68,81.79 418.22,83.74 416.53,82.62 414.84,83.74 415.38,81.79 413.80,80.53 415.82,80.44" fill="#2a8c5c"/>
<polygon points="422.96,75.37 423.67,77.27 425.69,77.36 424.11,78.62 424.65,80.57 422.96,79.46 421.27,80.57 421.81,78.62 420.23,77.36 422.25,77.27" fill="#2a8c5c"/>
<polygon points="429.39,72.73 430.10,74.63 432.12,74.72 430.54,75.98 431.08,77.93 429.39,76.82 427.70,77.93 428.24,75.98 426.66,74.72 428.68,74.63" fill="#2a8c5c"/>
<polygon points="435.82,70.09 436.53,71.99 438.55,72.08 436.97,73.34 437.51,75.29 435.82,74.18 434.13,75.29 434.67,73.34 433.09,72.08 435.11,71.99" fill="#2a8c5c"/>
<polygon points="442.25,67.72 442.96,69.62 444.98,69.70 443.40,70.97 443.94,72.92 442.25,71.80 440.56,72.92 441.10,70.97 439.52,69.70 441.54,69.62" fill="#2a8c5c"/>
<polygon points="448.68,65.08 449.39,66.98 451.41,67.06 449.83,68.33 450.37,70.28 448.68,69.16 446.99,70.28 447.53,68.33 445.95,67.06 447.97,66.98" fill="#2a8c5c"/>
<polygon points="455.11,62.44 455.82,64.34 457.84,64.42 456.26,65.69 456.80,67.64 455.11,66.52 453.42,67.64 453.96,65.69 452.38,64.42 454.40,64.34" fill="#2a8c5c"/>
<polygon points="461.54,60.06 462.25,61.96 464.27,62.05 462.69,63.31 463.23,65.26 461.54,64.14 459.85,65.26 460.39,63.31 458.81,62.05 460.83,61.96" fill="#2a8c5c"/>
<polygon points="467.97,57.16 468.68,59.06 470.70,59.14 469.12,60.41 469.66,62.36 467.97,61.24 466.28,62.36 466.82,60.41 465.24,59.14 467.26,59.06" fill="#2a8c5c"/>
<polygon points="474.40,55.04 475.11,56.94 477.13,57.03 475.55,58.29 476.09,60.25 474.40,59.13 472.71,60.25 473.25,58.29 471.67,57.03 473.69,56.94" fill="#2a8c5c"/>
<polygon points="480.83,52.93 481.54,54.83 483.56,54.92 481.98,56.18 482.52,58.13 480.83,57.02 479.14,58.13 479.68,56.18 478.10,54.92 480.12,54.83" fill="#2a8c5c"/>
<polygon points="487.26,50.82 487.97,52.72 489.99,52.81 488.41,54.07 488.95,56.02 487.26,54.90 485.57,56.02 486.11,54.07 484.53,52.81 486.55,52.72" fill="#2a8c5c"/>
<polygon points="493.69,48.97 494.40,50.87 496.42,50.96 494.84,52.22 495.38,54.17 493.69,53.06 492.00,54.17 492.54,52.22 490.96,50.96 492.98,50.87" fill="#2a8c5c"/>
<polygon points="500.12,46.86 500.83,48.76 502.85,48.85 501.27,50.11 501.81,52.06 500.12,50.94 498.43,52.06 498.97,50.11 497.39,48.85 499.41,48.76" fill="#2a8c5c"/>
<polygon points="506.55,45.01 507.26,46.91 509.28,47.00 507.70,48.26 508.24,50.21 506.55,49.10 504.86,50.21 505.40,48.26 503.82,47.00 505.84,46.91" fill="#2a8c5c"/>
<polygon points="313.65,192.55 316.30,195.20 313.65,197.85 311.00,195.20" fill="#9a66d8"/>
<polygon points="320.08,144.77 322.73,147.42 320.08,150.07 317.43,147.42" fill="#9a66d8"/>
<polygon points="326.51,131.83 329.16,134.48 326.51,137.13 323.86,134.48" fill="#9a66d8"/>
<polygon points="332.94,121.01 335.59,123.66 332.94,126.31 330.29,123.66" fill="#9a66d8"/>
<polygon points="339.37,111.50 342.02,114.15 339.37,116.80 336.72,114.15" fill="#9a66d8"/>
<polygon points="345.80,105.17 348.45,107.82 345.80,110.47 343.15,107.82" fill="#9a66d8"/>
<polygon points="352.23,98.57 354.88,101.22 352.23,103.87 349.58,101.22" fill="#9a66d8"/>
<polygon points="358.66,92.76 361.31,95.41 358.66,98.06 356.01,95.41" fill="#9a66d8"/>
<polygon points="365.09,87.74 367.74,90.39 365.09,93.04 362.44,90.39" fill="#9a66d8"/>
<polygon points="371.52,82.46 374.17,85.11 371.52,87.76 368.87,85.11" fill="#9a66d8"/>
<polygon points="377.95,77.71 380.60,80.36 377.95,83.01 375.30,80.36" fill="#9a66d8"/>
<polygon points="384.38,72.96 387.03,75.61 384.38,78.26 381.73,75.61" fill="#9a66d8"/>
<polygon points="390.81,68.47 393.46,71.12 390.81,73.77 388.16,71.12" fill="#9a66d8"/>
<polygon points="397.24,64.25 399.89,66.90 397.24,69.55 394.59,66.90" fill="#9a66d8"/>
<polygon points="403.67,59.76 406.32,62.41 403.67,65.06 401.02,62.41" fill="#9a66d8"/>
<polygon points="410.10,55.83 412.75,58.48 410.10,61.13 407.45,58.48" fill="#9a66d8"/>
<polygon points="416.53,52.07 419.18,54.72 416.53,57.37 413.88,54.72" fill="#9a66d8"/>
<polygon points="422.96,48.47 425.61,51.12 422.96,53.77 420.31,51.12" fill="#9a66d8"/>
<polygon points="429.39,45.01 432.04,47.66 429.39,50.31 426.74,47.66" fill="#9a66d8"/>
<polygon points="435.82,41.71 438.47,44.36 435.82,47.01 433.17,44.36" fill="#9a66d8"/>
<polygon points="442.25,38.53 444.90,41.18 442.25,43.83 439.60,41.18" fill="#9a66d8"/>
<polygon points="448.68,35.49 451.33,38.14 448.68,40.79 446.03,38.14" fill="#9a66d8"/>
<polygon points="455.11,32.57 457.76,35.22 455.11,37.87 452.46,35.22" fill="#9a66d8"/>
<polygon points="461.54,29.74 464.19,32.39 461.54,35.04 458.89,32.39" fill="#9a66d8"/>
<polygon points="467.97,27.00 470.62,29.65 467.97,32.30 465.32,29.65" fill="#9a66d8"/>
<polygon points="474.40,24.36 477.05,27.01 474.40,29.66 471.75,27.01" fill="#9a66d8"/>
<polygon points="480.83,21.81 483.48,24.46 480.83,27.11 478.18,24.46" fill="#9a66d8"/>
<polygon points="487.26,19.38 489.91,22.03 487.26,24.68 484.61,22.03" fill="#9a66d8"/>
<polygon points="493.69,17.05 496.34,19.70 493.69,22.35 491.04,19.70" fill="#9a66d8"/>
<polygon points="500.12,14.84 502.77,17.49 500.12,20.14 497.47,17.49" fill="#9a66d8"/>
<polygon points="506.55,12.77 509.20,15.42 506.55,18.07 503.90,15.42" fill="#9a66d8"/>
<rect x="319.20" y="17.20" width="4.20" height="4.20" fill="#333333"/>
<text x="335.4" y="22.90" class="lg" fill="#333333" stroke="#333333">300K</text>
<circle cx="321.30" cy="34.90" r="2.30" fill="#dc2438"/>
<text x="335.4" y="38.50" class="lg" fill="#dc2438" stroke="#dc2438">350K</text>
<polygon points="321.30,47.42 324.00,52.55 318.60,52.55" fill="#1f50c8"/>
<text x="335.4" y="54.10" class="lg" fill="#1f50c8" stroke="#1f50c8">400K</text>
<polygon points="321.30,63.22 322.01,65.12 324.03,65.21 322.45,66.47 322.99,68.43 321.30,67.31 319.61,68.43 320.15,66.47 318.57,65.21 320.59,65.12" fill="#2a8c5c"/>
<text x="335.4" y="69.70" class="lg" fill="#2a8c5c" stroke="#2a8c5c">450K</text>
<polygon points="321.30,79.05 323.95,81.70 321.30,84.35 318.65,81.70" fill="#9a66d8"/>
<text x="335.4" y="85.30" class="lg" fill="#9a66d8" stroke="#9a66d8">500K</text>
<rect x="301.2" y="4.0" width="218.20" height="197.40" fill="none" stroke="#151515" stroke-width="1.3"/>
<text x="411" y="225.2" text-anchor="middle" class="lab">Time (ps)</text>
<text transform="translate(281.0,102.5) rotate(-90)" text-anchor="middle" class="lab">MSD (Å<tspan dy="-4.4" font-size="6.2">2</tspan><tspan dy="4.4">)</tspan></text>
<text x="395" y="246.6" text-anchor="middle" style="font-size:14.2px;fill:#111;stroke:#111;stroke-width:0.2px">(b)</text>
</g>
</svg></body></html>
